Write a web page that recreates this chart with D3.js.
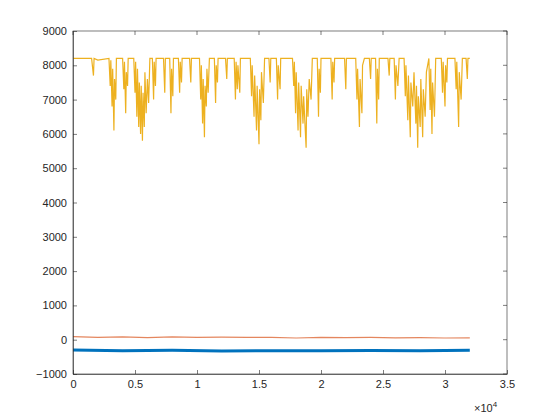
<!DOCTYPE html>
<html><head><meta charset="utf-8">
<script src="https://cdn.jsdelivr.net/npm/d3@7"></script>
<style>body{margin:0;background:#fff}svg{font-family:Helvetica,"Liberation Sans",Arial,sans-serif}</style>
</head><body>
<svg id="c" width="560" height="420"></svg>
<script>
// samples: [index, value]
var yellow = [[0,8200],[1500,8200],[1650,7700],[1700,8200],[2000,8150],[2900,8200],[3000,7400],[3050,8150],[3150,6800],[3200,7900],[3300,6100],[3350,7600],[3450,7000],[3500,8200],
[4000,8200],[4100,7300],[4150,8100],[4250,6600],[4300,7800],[4400,7400],[4450,8200],
[4900,8200],[5000,7200],[5050,8100],[5150,6500],[5200,7900],[5300,6200],[5350,7500],[5450,6000],[5500,7400],[5600,5800],[5650,7200],[5750,6200],[5800,7800],[5900,6600],[6000,7600],[6100,6900],[6200,8200],
[6400,8200],[6500,7000],[6550,8100],[6650,7400],[6700,8200],[7300,8200],[7400,7200],[7450,8200],[7800,8200],[7900,6600],[7950,7900],[8050,7100],[8100,8200],
[8500,8200],[8600,7200],[8650,8100],[8750,7500],[8800,8200],[9400,8200],[9500,7500],[9550,8200],
[10200,8200],[10300,7000],[10350,8000],[10450,6300],[10500,7600],[10600,5900],[10650,7400],[10750,6800],[10800,7900],[10900,7200],[11000,8200],
[11400,8200],[11500,6900],[11550,8000],[11650,7500],[11700,8200],[12300,8200],[12400,7600],[12450,8200],
[13000,8200],[13100,7000],[13150,8100],[13250,7300],[13300,8000],[13450,7200],[13500,8200],
[14300,8200],[14400,7100],[14450,8000],[14600,6500],[14650,7700],[14800,6100],[14850,7400],[15000,5700],[15050,7300],[15150,6400],[15200,7800],[15350,6900],[15450,8200],
[15800,8200],[15900,7500],[15950,8200],[16400,8200],[16500,7000],[16550,8000],[16700,7300],[16750,8200],
[17700,8200],[17800,7400],[17850,8100],[17950,6600],[18000,7800],[18150,6100],[18200,7500],[18350,5900],[18400,7400],[18550,6300],[18600,7100],[18800,5600],[18850,7300],[18950,6500],[19050,7600],[19200,7000],[19300,8200],
[19700,8200],[19800,6500],[19850,7900],[19950,7200],[20000,8200],[20800,8200],[20900,7000],[20950,8100],[21050,7500],[21100,8200],
[21900,8200],[22000,7300],[22050,8200],[22800,8200],[22900,7000],[22950,7900],[23100,6200],[23150,7600],[23300,6600],[23350,8000],[23500,8200],
[23900,8200],[24000,7600],[24050,8200],[24400,8200],[24500,6300],[24550,7900],[24650,7000],[24700,8200],
[25400,8200],[25500,7700],[25550,8200],[25900,8200],[26000,7000],[26050,8000],[26200,7400],[26300,8200],
[26700,8200],[26800,7100],[26850,8000],[27000,6400],[27050,7700],[27200,5900],[27250,7500],[27400,6800],[27500,7800],[27650,6300],[27700,7400],[27800,5600],[27850,7100],[28000,6200],[28050,7600],[28200,5900],[28250,7300],[28400,6500],[28500,7800],
[28700,8200],[28800,6700],[28850,7900],[28950,6000],[29000,7500],[29150,6500],[29250,8200],
[29700,8200],[29800,7200],[29850,8100],[30000,6800],[30050,8000],[30150,7500],[30200,8200],
[30800,8200],[30900,7300],[30950,8100],[31100,6200],[31150,7800],[31300,7000],[31400,8200],[31700,8200],[31800,7600],[31850,8200],[32000,8200]];
var red = [[0,90],[2000,70],[4000,85],[6000,60],[8000,80],[10000,70],[12000,75],[14000,65],[16000,70],[18000,50],[20000,70],[22000,60],[24000,65],[26000,55],[28000,60],[30000,50],[32000,55]];
var blue = [[0,-300],[4000,-320],[8000,-310],[12000,-330],[16000,-320],[20000,-325],[24000,-315],[28000,-325],[32000,-310]];
var xTicks = [0,5000,10000,15000,20000,25000,30000,35000];
var xTickLabels = ["0","0.5","1","1.5","2","2.5","3","3.5"];
var yTicks = d3.range(-1000, 9001, 1000);

var svg = d3.select("#c");
var L=73,R=507,T=31,B=374;
var x = d3.scaleLinear().domain([0,35000]).range([L,R]);
var y = d3.scaleLinear().domain([-1000,9000]).range([B,T]);

svg.append("rect").attr("x",L).attr("y",T).attr("width",R-L).attr("height",B-T).attr("fill","#fff").attr("stroke","#262626").attr("stroke-width",0.6);

var line = d3.line().x(function(d){return x(d[0]);}).y(function(d){return y(d[1]);});
svg.append("path").datum(blue).attr("d",line).attr("fill","none").attr("stroke","#0072bd").attr("stroke-width",3);
svg.append("path").datum(red).attr("d",line).attr("fill","none").attr("stroke","#d95319").attr("stroke-width",1.2).attr("opacity",0.7);
svg.append("path").datum(yellow).attr("d",line).attr("fill","none").attr("stroke","#edb120").attr("stroke-width",1.2);

var xa = svg.append("g").attr("transform","translate(0,"+B+")")
  .call(d3.axisBottom(x).tickValues(xTicks).tickFormat(function(d,i){return xTickLabels[i];}).tickSize(-4).tickSizeOuter(0).tickPadding(6));
var ya = svg.append("g").attr("transform","translate("+L+",0)")
  .call(d3.axisLeft(y).tickValues(yTicks).tickFormat(d3.format("d")).tickSize(-4).tickSizeOuter(0).tickPadding(6));
[xa,ya].forEach(function(a){
  a.select(".domain").attr("stroke","#262626").attr("stroke-width",0.6);
  a.selectAll("line").attr("stroke","#262626").attr("stroke-width",0.6);
  a.selectAll("text").attr("fill","#262626").style("font-size","11px");
});
xTicks.forEach(function(t){svg.append("line").attr("x1",x(t)).attr("x2",x(t)).attr("y1",T).attr("y2",T+4).attr("stroke","#262626").attr("stroke-width",0.6);});
yTicks.forEach(function(t){svg.append("line").attr("x1",R).attr("x2",R-4).attr("y1",y(t)).attr("y2",y(t)).attr("stroke","#262626").attr("stroke-width",0.6);});

var ex = svg.append("text").attr("x",474).attr("y",412).attr("fill","#262626").style("font-size","11px");
ex.append("tspan").text("\u00d710");
ex.append("tspan").attr("dy",-5).style("font-size","8px").text("4");
</script>
</body></html>
